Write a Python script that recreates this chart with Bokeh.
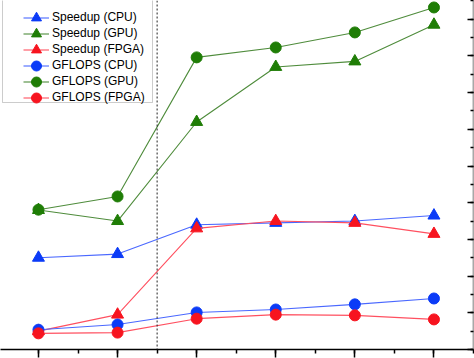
from bokeh.plotting import figure
from bokeh.models import (Range1d, LinearAxis, SingleIntervalTicker, Span, BoxAnnotation,
                          Legend, LegendItem, CustomJSTickFormatter)
from bokeh.embed import file_html
from bokeh.resources import INLINE

# data
x = [1, 2, 3, 4, 5, 6]
speedup_cpu = [5.0, 5.2, 6.8, 6.9, 7.0, 7.3]
speedup_gpu = [7.6, 7.0, 12.4, 15.4, 15.7, 17.7]
speedup_fpga = [1.0, 1.9, 6.6, 7.0, 6.9, 6.3]
gflops_cpu = [5.4, 6.8, 10.1, 10.9, 12.3, 13.9]
gflops_gpu = [38.1, 41.7, 79.6, 82.3, 86.4, 93.2]
gflops_fpga = [4.4, 4.6, 8.4, 9.5, 9.3, 8.2]
labels = ["Speedup (CPU)", "Speedup (GPU)", "Speedup (FPGA)",
          "GFLOPS (CPU)", "GFLOPS (GPU)", "GFLOPS (FPGA)"]
split_x = 2.5

BLUE_M, BLUE_L = "#0b3bf7", "#4a68ff"
GREEN_M, GREEN_L = "#1f7d06", "#4f8c3c"
RED_M, RED_L = "#f7141f", "#ff5060"

p = figure(width=474, height=358, output_backend="svg", toolbar_location=None,
           x_range=Range1d(0.52, 6.5), y_range=Range1d(0, 19.02),
           y_axis_location=None, min_border_left=0, min_border_top=0,
           min_border_right=1, min_border_bottom=9,
           styles={"position": "absolute", "left": "0px", "top": "0px"})
p.outline_line_color = None
p.xgrid.visible = False
p.ygrid.visible = False
p.extra_y_ranges = {"gflops": Range1d(0, 95.1)}

blank = CustomJSTickFormatter(code="return ''")

xa = p.xaxis[0]
xa.ticker = SingleIntervalTicker(interval=1, num_minor_ticks=2)
xa.formatter = blank
xa.major_label_text_font_size = "0px"
xa.major_label_standoff = 0
xa.major_tick_out = 8
xa.major_tick_in = 0
xa.minor_tick_out = 4
xa.minor_tick_in = 0
xa.axis_line_width = 1.5
xa.major_tick_line_width = 1.5
xa.minor_tick_line_width = 1.5
xa.axis_line_color = "black"

ra = LinearAxis(y_range_name="gflops",
                ticker=SingleIntervalTicker(interval=10, num_minor_ticks=2),
                formatter=CustomJSTickFormatter(code="return ''"))
ra.major_label_text_font_size = "0px"
ra.major_label_standoff = 0
ra.major_tick_in = 6
ra.major_tick_out = 0
ra.minor_tick_in = 3
ra.minor_tick_out = 0
ra.axis_line_color = "#a8a8a8"
ra.axis_line_width = 2
ra.major_tick_line_width = 1.5
ra.minor_tick_line_width = 1.5
p.add_layout(ra, "right")

p.add_layout(Span(location=split_x, dimension="height", line_color="#222222",
                  line_dash="2 2", line_width=1))

# legend frame
p.add_layout(BoxAnnotation(left=2, right=152, bottom=247, top=400,
                           left_units="screen", right_units="screen",
                           bottom_units="screen", top_units="screen",
                           fill_color="white", fill_alpha=1,
                           line_color="#555555", line_width=1, level="glyph"))

series = [
    (speedup_cpu, BLUE_M, BLUE_L, "triangle", "default"),
    (speedup_gpu, GREEN_M, GREEN_L, "triangle", "default"),
    (speedup_fpga, RED_M, RED_L, "triangle", "default"),
    (gflops_cpu, BLUE_M, BLUE_L, "circle", "gflops"),
    (gflops_gpu, GREEN_M, GREEN_L, "circle", "gflops"),
    (gflops_fpga, RED_M, RED_L, "circle", "gflops"),
]
for i, ((ys, mc, lc, mk, rng), lab) in enumerate(zip(series, labels)):
    r1 = p.line(x, ys, line_color=lc, line_width=1.1, y_range_name=rng)
    r2 = p.scatter(x, ys, marker=mk, size=12 if mk == "triangle" else 11,
                   fill_color=mc, line_color=mc, y_range_name=rng)
    lg = Legend(items=[LegendItem(label=lab, renderers=[r1, r2])],
                location=(23, 319.5 - 16 * i), padding=0, margin=0, spacing=0,
                glyph_width=26, glyph_height=25, label_height=12, label_standoff=3,
                label_text_font="Liberation Sans", label_text_font_size="12px",
                label_text_color="black", border_line_alpha=0,
                background_fill_alpha=0)
    p.add_layout(lg, "center")

open("out.html", "w").write(file_html(p, INLINE))
